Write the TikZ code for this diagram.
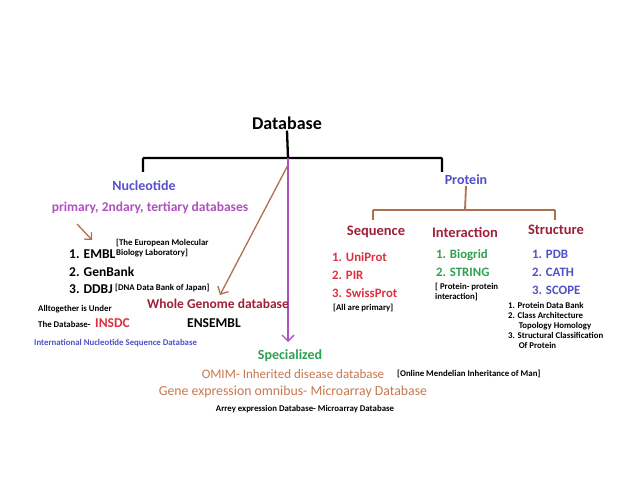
\documentclass[tikz,border=0pt]{standalone}
\usepackage{fontspec}
\setmainfont{Carlito}
\usetikzlibrary{arrows.meta}
\definecolor{nuc}{HTML}{5A4FCF}
\definecolor{prim}{HTML}{B04FC0}
\definecolor{dred}{HTML}{A0203A}
\definecolor{bred}{HTML}{E03040}
\definecolor{grn}{HTML}{30A050}
\definecolor{blu}{HTML}{5050C8}
\definecolor{brn}{HTML}{C87850}
\definecolor{tree}{HTML}{B07050}
\tikzset{t/.style={inner sep=1pt,font=\bfseries},
 s/.style={inner sep=1pt,font=\bfseries\fontsize{8.8}{10}\selectfont,align=left}}
\begin{document}
\begin{tikzpicture}[x=1pt,y=-1pt]
\useasboundingbox[fill=white] (0,0) rectangle (638,478);
\node[t,font=\bfseries\fontsize{18}{20}\selectfont] (db) at (287,123) {Database};
\coordinate (j) at (288,158);
\coordinate (nl) at (143,158); \coordinate (pr) at (442,158);
\draw[line width=2.3pt] (db.south) -- (j) (nl) -- (pr) (nl) -- ++(0,14) (pr) -- ++(0,14);
\node[t,text=nuc,font=\bfseries\fontsize{14}{16}\selectfont] (nuc) at (144,186) {Nucleotide};
\node[t,text=blu,font=\bfseries\fontsize{14}{16}\selectfont] (pro) at (466,180) {Protein};
\node[t,text=prim,font=\bfseries\fontsize{13.5}{15}\selectfont] (pri) at (150,208) {primary, 2ndary, tertiary databases};
\draw[-{Straight Barb[length=6pt]},prim,line width=1.4pt] (j) -- (288,342) coordinate (sp0);
\draw[-{Straight Barb[length=6pt]},tree,line width=1.3pt] (288,165) -- (220,295) coordinate (wg0);
\draw[-{Straight Barb[length=5pt]},tree,line width=1.3pt] (77,224) -- (92,240);
% nucleotide list
\node[t,anchor=west,font=\bfseries\fontsize{13.5}{15}\selectfont] (embl) at (68,254) {1. EMBL};
\node[s,anchor=west] (embls) at (115,248) {[The European Molecular\\ Biology Laboratory]};
\node[t,anchor=west,font=\bfseries\fontsize{13.5}{15}\selectfont] (gb) at (68,272) {2. GenBank};
\node[t,anchor=west,font=\bfseries\fontsize{13.5}{15}\selectfont] (dd) at (68,289) {3. DDBJ};
\node[s,anchor=west] (dds) at (114,288) {[DNA Data Bank of Japan]};
\node[s,anchor=west] (all) at (37,309) {Alltogether is Under};
\node[s,anchor=west] (the) at (37,324) {The Database-};
\node[t,anchor=west,text=bred,font=\bfseries\fontsize{13.5}{15}\selectfont] (insdc) at (94,323) {INSDC};
\node[s,anchor=west,text=blu] (intl) at (33,343) {International Nucleotide Sequence Database};
\node[t,text=dred,font=\bfseries\fontsize{13.5}{15}\selectfont] (wg) at (218,304) {Whole Genome database};
\node[t,font=\bfseries\fontsize{13.5}{15}\selectfont] (ens) at (214,323) {ENSEMBL};
% protein tree
\draw[tree,line width=1.8pt] (pro.south) -- (465,210) (373,210) -- (555,210) (373,210) -- ++(0,10) (555,210) -- ++(0,10);
\node[t,text=dred,font=\bfseries\fontsize{14.5}{16}\selectfont] (seq) at (376,232) {Sequence};
\node[t,text=dred,font=\bfseries\fontsize{14.5}{16}\selectfont] (int) at (465,232) {Interaction};
\node[t,text=dred,font=\bfseries\fontsize{14.5}{16}\selectfont] (str) at (556,230) {Structure};
\begin{scope}[every node/.style={t,anchor=west,font=\bfseries\fontsize{12.8}{14}\selectfont}]
\node[text=bred] (u1) at (331,257) {1. UniProt};
\node[text=bred] (u2) at (331,275) {2. PIR};
\node[text=bred] (u3) at (331,293) {3. SwissProt};
\node[text=grn] (i1) at (435,255) {1. Biogrid};
\node[text=grn] (i2) at (435,272) {2. STRING};
\node[text=blu] (p1) at (531,254) {1. PDB};
\node[text=blu] (p2) at (531,272) {2. CATH};
\node[text=blu] (p3) at (531,290) {3. SCOPE};
\end{scope}
\node[s,anchor=west] (allp) at (332,308) {[All are primary]};
\node[s,anchor=north west] (ppi) at (434,282) {[ Protein- protein\\ interaction]};
\node[s,anchor=north west] (sx) at (507,301) {1. Protein Data Bank\\ 2. Class Architecture\\ \hspace{1.2em}Topology Homology\\ 3. Structural Classification\\ \hspace{1.2em}Of Protein};
% specialized
\node[t,text=grn,font=\bfseries\fontsize{14}{16}\selectfont] (sp) at (290,356) {Specialized};
\node[inner sep=1pt,text=brn,font=\fontsize{13}{15}\selectfont] (om) at (293,374) {OMIM- Inherited disease database};
\node[s,anchor=west] (oms) at (396,374) {[Online Mendelian Inheritance of Man]};
\node[inner sep=1pt,text=brn,font=\fontsize{13.8}{15}\selectfont] (ge) at (293,392) {Gene expression omnibus- Microarray Database};
\node[s] (ae) at (305,409) {Arrey expression Database- Microarray Database};
\end{tikzpicture}
\end{document}
